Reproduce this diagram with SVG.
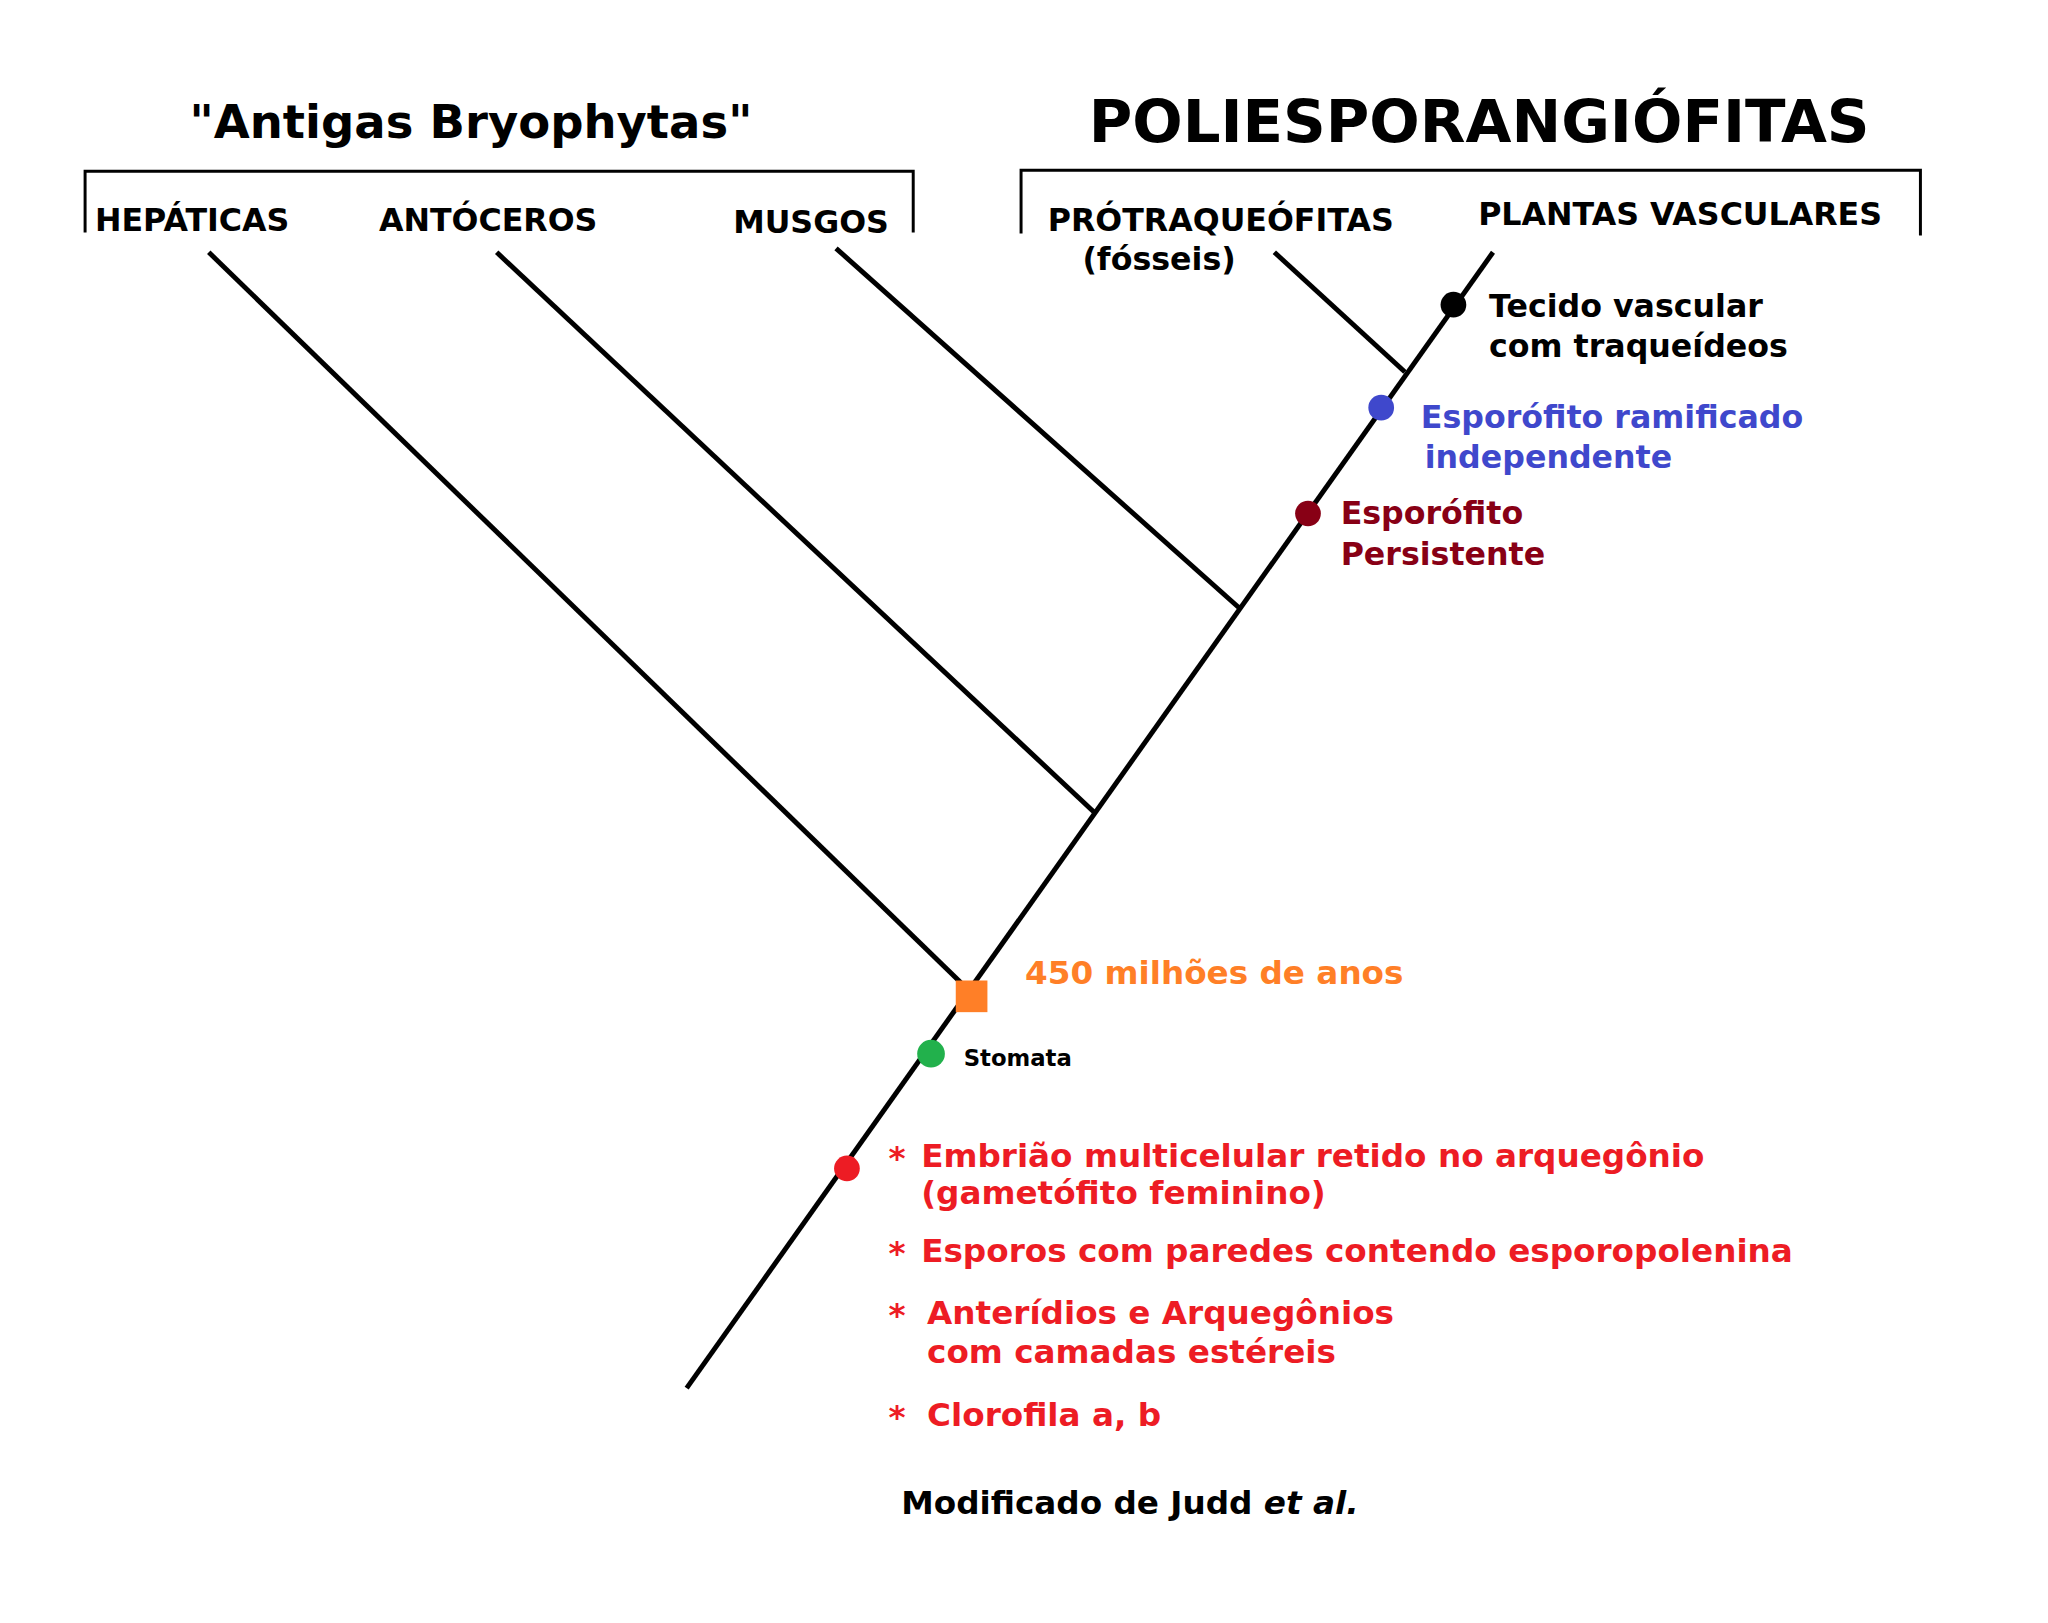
<svg xmlns="http://www.w3.org/2000/svg" width="2048" height="1623" viewBox="0 0 2048 1623">
<style>
text{font-family:"DejaVu Sans",Verdana,sans-serif;font-weight:bold}
.lbl{font-size:32px;fill:#000}
.br{fill:none;stroke:#000;stroke-width:3}
.ln{stroke:#000;stroke-width:5;fill:none}
.red{fill:#ed1c24;font-size:33px}
</style>
<rect width="2048" height="1623" fill="#fff"/>
<g transform="scale(0.9894)">
<g id="titles">
<text x="476" y="139" font-size="47" text-anchor="middle">"Antigas Bryophytas"</text>
<text x="1495" y="144" font-size="60" text-anchor="middle">POLIESPORANGIÓFITAS</text>
</g>
<g id="brackets">
<path class="br" d="M86,235V173H923V235"/>
<path class="br" d="M1032,236V172H1941V238"/>
</g>
<g id="taxa">
<text class="lbl" x="96" y="233">HEPÁTICAS</text>
<text class="lbl" x="383" y="233">ANTÓCEROS</text>
<text class="lbl" x="741" y="235">MUSGOS</text>
<text class="lbl" x="1059" y="233">PRÓTRAQUEÓFITAS</text>
<text class="lbl" x="1094" y="273">(fósseis)</text>
<text class="lbl" x="1494" y="227">PLANTAS VASCULARES</text>
</g>
<g id="connectors">
<line class="ln" x1="694" y1="1403" x2="1509" y2="255"/>
<line class="ln" x1="211" y1="255" x2="971" y2="993"/>
<line class="ln" x1="502" y1="255" x2="1107" y2="822"/>
<line class="ln" x1="845" y1="251" x2="1252" y2="614"/>
<line class="ln" x1="1288" y1="255" x2="1420" y2="376"/>
</g>
<g id="markers">
<circle cx="1469" cy="308" r="13" fill="#000"/>
<circle cx="1396" cy="412" r="13" fill="#3f48cc"/>
<circle cx="1322" cy="519" r="13" fill="#880015"/>
<rect x="966" y="991" width="32" height="32" fill="#ff7f27"/>
<circle cx="941" cy="1065" r="14" fill="#22b14c"/>
<circle cx="856" cy="1181" r="13" fill="#ed1c24"/>
</g>
<g id="notes">
<text class="lbl" x="1505" y="320">Tecido vascular</text>
<text class="lbl" x="1505" y="361">com traqueídeos</text>
<text x="1436" y="433" font-size="32" fill="#3f48cc">Esporófito ramificado</text>
<text x="1440" y="473" font-size="32" fill="#3f48cc">independente</text>
<text x="1355" y="530" font-size="32" fill="#880015">Esporófito</text>
<text x="1355" y="571" font-size="32" fill="#880015">Persistente</text>
<text x="1036" y="995" font-size="33" fill="#ff7f27">450 milhões de anos</text>
<text x="974" y="1077" font-size="23" fill="#000">Stomata</text>
<text class="red" x="898" y="1182">*</text>
<text class="red" x="931" y="1180">Embrião multicelular retido no arquegônio</text>
<text class="red" x="931" y="1217">(gametófito feminino)</text>
<text class="red" x="898" y="1278">*</text>
<text class="red" x="931" y="1276">Esporos com paredes contendo esporopolenina</text>
<text class="red" x="898" y="1340">*</text>
<text class="red" x="937" y="1338">Anterídios e Arquegônios</text>
<text class="red" x="937" y="1378">com camadas estéreis</text>
<text class="red" x="898" y="1443">*</text>
<text class="red" x="937" y="1441">Clorofila a, b</text>
<text x="911" y="1530" font-size="33" fill="#000">Modificado de Judd <tspan font-style="italic">et al.</tspan></text>
</g>
</g>
</svg>
